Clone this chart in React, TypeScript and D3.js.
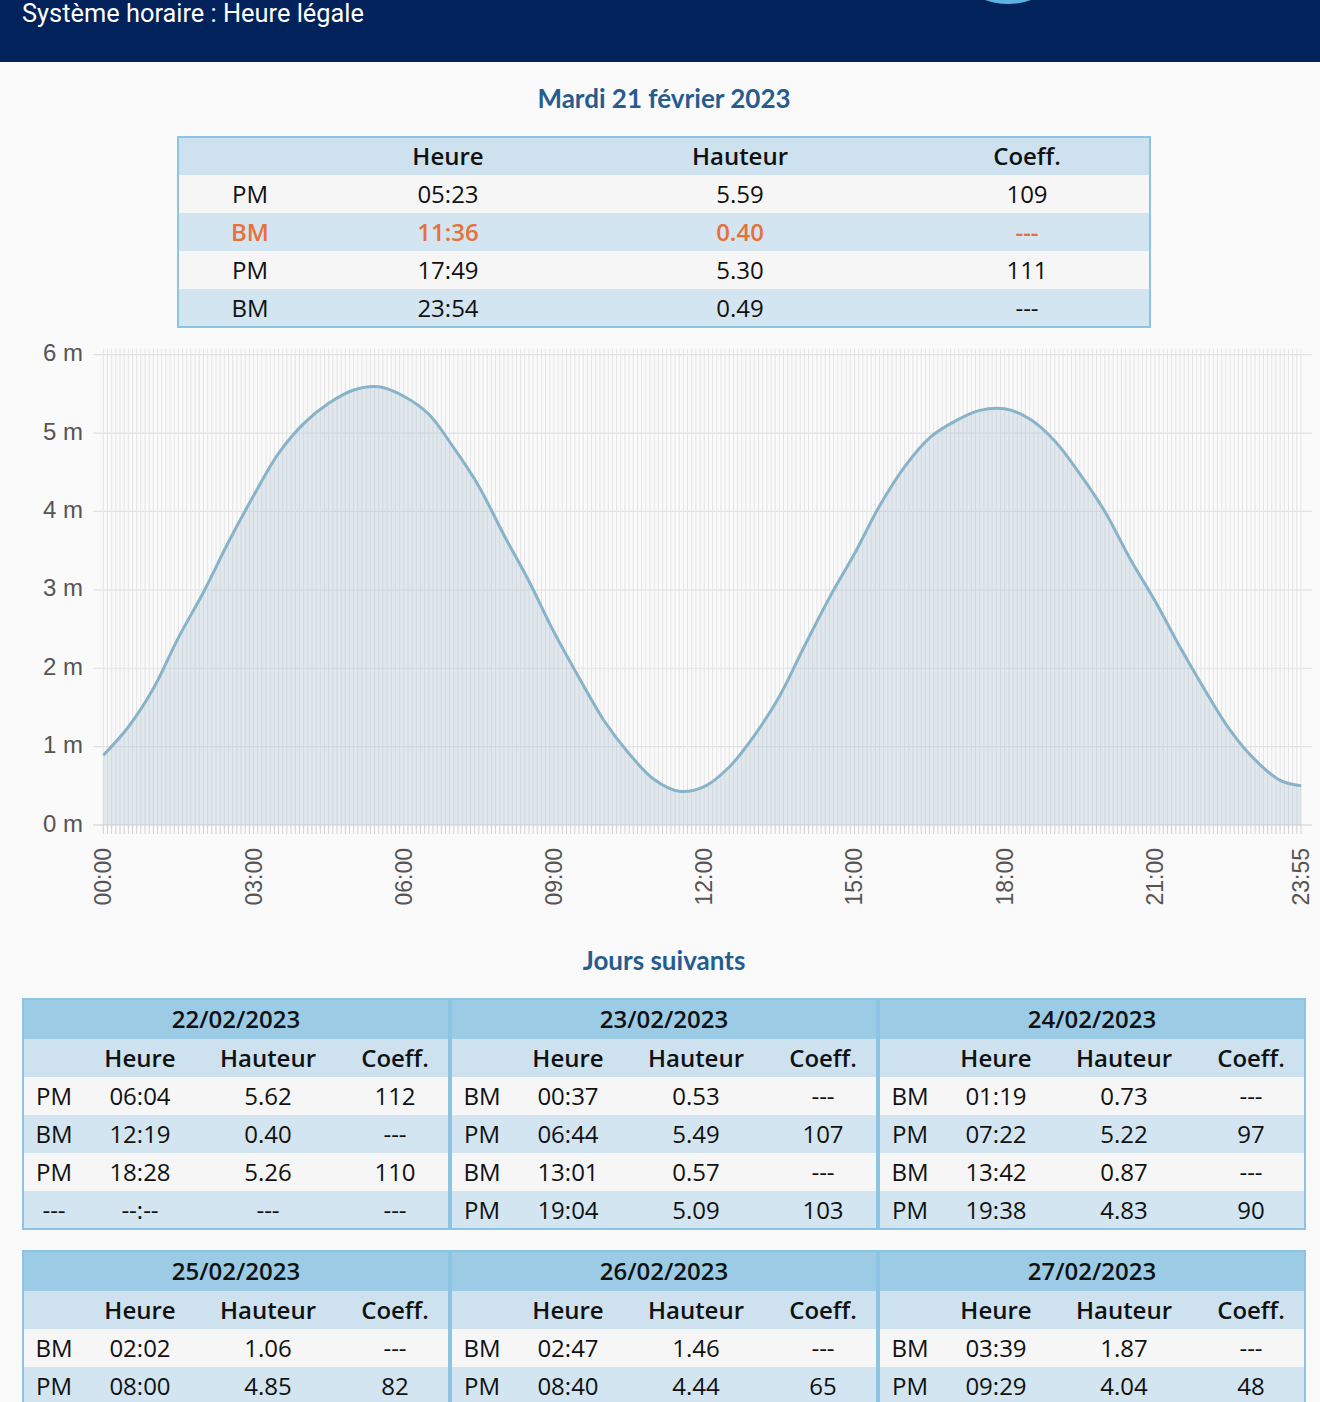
import React, { useEffect, useRef } from 'react'
import * as d3 from 'd3'

// Water height for the day, read every half hour (minutes after midnight, metres)
const tideMinutes = [
  0, 30, 60, 90, 120, 150, 180, 210, 240, 270, 300, 330, 360, 390, 420, 450,
  480, 510, 540, 570, 600, 630, 660, 690, 720, 750, 780, 810, 840, 870, 900, 930,
  960, 990, 1020, 1050, 1080, 1110, 1140, 1170, 1200, 1230, 1260, 1290, 1320, 1350, 1380, 1410,
  1435
]
const tideHeights = [
  0.89, 1.25, 1.74, 2.39, 2.97, 3.61, 4.2, 4.74, 5.12, 5.38, 5.55, 5.59, 5.47, 5.24, 4.81, 4.32,
  3.7, 3.11, 2.46, 1.88, 1.33, 0.91, 0.58, 0.43, 0.49, 0.74, 1.14, 1.64, 2.28, 2.9, 3.46, 4.07,
  4.57, 4.94, 5.15, 5.29, 5.31, 5.18, 4.9, 4.48, 4.0, 3.4, 2.86, 2.27, 1.72, 1.21, 0.83, 0.57,
  0.5
]

const yTicks = [0, 1, 2, 3, 4, 5, 6]
const xTickMinutes = [0, 180, 360, 540, 720, 900, 1080, 1260, 1435]

// Today's table
const todayTypes = ['PM', 'BM', 'PM', 'BM']
const todayTimes = ['05:23', '11:36', '17:49', '23:54']
const todayHeights = [5.59, 0.4, 5.3, 0.49]
const todayCoeffs = [109, null, 111, null]
const nextTideRow = 1

// Following days
const nextDates = ['22/02/2023', '23/02/2023', '24/02/2023', '25/02/2023', '26/02/2023', '27/02/2023']
const nextTypes = [
  ['PM', 'BM', 'PM', null],
  ['BM', 'PM', 'BM', 'PM'],
  ['BM', 'PM', 'BM', 'PM'],
  ['BM', 'PM'],
  ['BM', 'PM'],
  ['BM', 'PM']
]
const nextTimes = [
  ['06:04', '12:19', '18:28', null],
  ['00:37', '06:44', '13:01', '19:04'],
  ['01:19', '07:22', '13:42', '19:38'],
  ['02:02', '08:00'],
  ['02:47', '08:40'],
  ['03:39', '09:29']
]
const nextHeights = [
  [5.62, 0.4, 5.26, null],
  [0.53, 5.49, 0.57, 5.09],
  [0.73, 5.22, 0.87, 4.83],
  [1.06, 4.85],
  [1.46, 4.44],
  [1.87, 4.04]
]
const nextCoeffs = [
  [112, null, 110, null],
  [null, 107, null, 103],
  [null, 97, null, 90],
  [null, 82],
  [null, 65],
  [null, 48]
]

const TABLE_FONT = "'Open Sans', 'Noto Sans', sans-serif"
const TITLE_FONT = "Lato, 'Open Sans', sans-serif"
const AXIS_FONT = "'Liberation Sans', Arial, sans-serif"

const fmtTime = (m: number) => `${String(Math.floor(m / 60)).padStart(2, '0')}:${String(m % 60).padStart(2, '0')}`
const fmtHeight = (h: number | null) => (h == null ? '---' : h.toFixed(2))
const fmtCoeff = (c: number | null) => (c == null ? '---' : String(c))

function App() {
  const ref = useRef<SVGSVGElement | null>(null)

  useEffect(() => {
    const W = 1320
    const H = 1402
    const svg = d3.select(ref.current)
    svg.selectAll('*').remove()

    svg.append('rect').attr('width', W).attr('height', H).attr('fill', '#fafafa')

    // Header band
    svg.append('rect').attr('width', W).attr('height', 62).attr('fill', '#01225a')
    svg.append('circle')
      .attr('cx', 1008).attr('cy', -64).attr('r', 68)
      .attr('fill', '#5ab3e4')
    svg.append('text')
      .attr('x', 22).attr('y', 22)
      .attr('fill', '#ffffff')
      .attr('font-family', "'Liberation Sans Narrow', Roboto, sans-serif")
      .attr('font-size', 25)
      .attr('textLength', 342)
      .attr('lengthAdjust', 'spacingAndGlyphs')
      .text('Système horaire : Heure légale')

    // Section titles
    const title = (y: number, label: string) =>
      svg.append('text')
        .attr('x', 664).attr('y', y)
        .attr('text-anchor', 'middle')
        .attr('fill', '#275c8e')
        .attr('font-family', TITLE_FONT)
        .attr('font-weight', 700)
        .attr('font-size', 26)
        .text(label)
    title(108, 'Mardi 21 février 2023')
    title(970, 'Jours suivants')

    // Generic table: rows of 4 cells, centred on the given column positions
    function drawTable(
      x: number, y: number, w: number, cols: number[],
      caption: string | null, header: string[], rows: string[][],
      highlight = -1
    ) {
      const g = svg.append('g')
      const rowH = 38
      let cy = y
      if (caption) {
        g.append('rect').attr('x', x).attr('y', cy).attr('width', w).attr('height', 40).attr('fill', '#9ccbe6')
        g.append('text')
          .attr('x', x + w / 2).attr('y', cy + 19)
          .attr('text-anchor', 'middle').attr('dominant-baseline', 'central')
          .attr('font-family', TABLE_FONT).attr('font-size', 24).attr('font-weight', 600)
          .attr('fill', '#111').text(caption)
        cy += 40
      }
      const all = [header, ...rows]
      all.forEach((cells, i) => {
        const fill = i === 0 ? '#cde2ee' : i % 2 === 1 ? '#f6f6f6' : '#d2e5f0'
        g.append('rect').attr('x', x).attr('y', cy).attr('width', w).attr('height', rowH).attr('fill', fill)
        const hl = highlight >= 0 && i - 1 === highlight
        cells.forEach((c, j) => {
          if (!c) return
          g.append('text')
            .attr('x', x + cols[j]).attr('y', cy + rowH / 2 - 1)
            .attr('text-anchor', 'middle').attr('dominant-baseline', 'central')
            .attr('font-family', TABLE_FONT).attr('font-size', 24)
            .attr('font-weight', i === 0 || hl ? 600 : 400)
            .attr('fill', hl ? '#e8703a' : '#111')
            .text(c)
        })
        cy += rowH
      })
      g.append('rect')
        .attr('x', x).attr('y', y).attr('width', w).attr('height', cy - y)
        .attr('fill', 'none').attr('stroke', '#8cc4e2').attr('stroke-width', 2)
    }

    drawTable(
      178, 137, 972, [72, 270, 562, 849], null,
      ['', 'Heure', 'Hauteur', 'Coeff.'],
      todayTypes.map((t, i) => [t, todayTimes[i], fmtHeight(todayHeights[i]), fmtCoeff(todayCoeffs[i])]),
      nextTideRow
    )

    const tableLefts = [23, 451, 879]
    const tableTops = [999, 1251]
    nextDates.forEach((date, d) => {
      const rows = nextTypes[d].map((t, i) => [
        t ?? '---',
        nextTimes[d][i] ?? '--:--',
        fmtHeight(nextHeights[d][i]),
        fmtCoeff(nextCoeffs[d][i])
      ])
      drawTable(
        tableLefts[d % 3], tableTops[Math.floor(d / 3)], 426, [31, 117, 245, 372],
        date, ['', 'Heure', 'Hauteur', 'Coeff.'], rows
      )
    })

    // Tide chart
    const x = d3.scaleLinear().domain([0, 1435]).range([103.3, 1301])
    const y = d3.scaleLinear().domain([0, 6]).range([825, 354.7])
    const chart = svg.append('g')

    const steps = d3.range(0, 1440, 5)
    chart.selectAll('line.vgrid')
      .data(steps)
      .enter().append('line')
      .attr('class', 'vgrid')
      .attr('x1', d => x(d)).attr('x2', d => x(d))
      .attr('y1', y(6) - 6).attr('y2', y(0))
      .attr('stroke', '#e4e4e4').attr('stroke-width', 1)

    chart.selectAll('line.tick')
      .data(steps)
      .enter().append('line')
      .attr('class', 'tick')
      .attr('x1', d => x(d)).attr('x2', d => x(d))
      .attr('y1', y(0)).attr('y2', y(0) + 9)
      .attr('stroke', '#d2d2d2').attr('stroke-width', 1)

    chart.selectAll('line.hgrid')
      .data(yTicks)
      .enter().append('line')
      .attr('class', 'hgrid')
      .attr('x1', 93).attr('x2', 1312)
      .attr('y1', d => y(d)).attr('y2', d => y(d))
      .attr('stroke', d => (d === 0 ? '#cfcfcf' : '#e2e2e2')).attr('stroke-width', 1.2)

    const points = tideMinutes.map((m, i) => [m, tideHeights[i]] as [number, number])

    const area = d3.area<[number, number]>()
      .x(d => x(d[0])).y0(y(0)).y1(d => y(d[1]))
      .curve(d3.curveCatmullRom.alpha(0.5))
    chart.append('path')
      .datum(points)
      .attr('d', area)
      .attr('fill', 'rgba(176, 198, 216, 0.35)')

    const line = d3.line<[number, number]>()
      .x(d => x(d[0])).y(d => y(d[1]))
      .curve(d3.curveCatmullRom.alpha(0.5))
    chart.append('path')
      .datum(points)
      .attr('d', line)
      .attr('fill', 'none')
      .attr('stroke', '#89b3c8')
      .attr('stroke-width', 3)
      .attr('stroke-linejoin', 'round')

    chart.selectAll('text.ylab')
      .data(yTicks)
      .enter().append('text')
      .attr('class', 'ylab')
      .attr('x', 83).attr('y', d => y(d) - 2)
      .attr('text-anchor', 'end').attr('dominant-baseline', 'central')
      .attr('font-family', AXIS_FONT).attr('font-size', 24).attr('fill', '#555')
      .text(d => `${d} m`)

    chart.selectAll('text.xlab')
      .data(xTickMinutes)
      .enter().append('text')
      .attr('class', 'xlab')
      .attr('transform', d => `translate(${x(d)},848) rotate(-90)`)
      .attr('text-anchor', 'end').attr('dominant-baseline', 'central')
      .attr('font-family', AXIS_FONT).attr('font-size', 23).attr('fill', '#555')
      .text(d => fmtTime(d))
  }, [])

  return (
    <div style={{ position: 'absolute', left: 0, top: 0, width: 1320, height: 1402, overflow: 'hidden' }}>
      <svg ref={ref} width={1320} height={1402} style={{ display: 'block' }} />
    </div>
  )
}

export default App
